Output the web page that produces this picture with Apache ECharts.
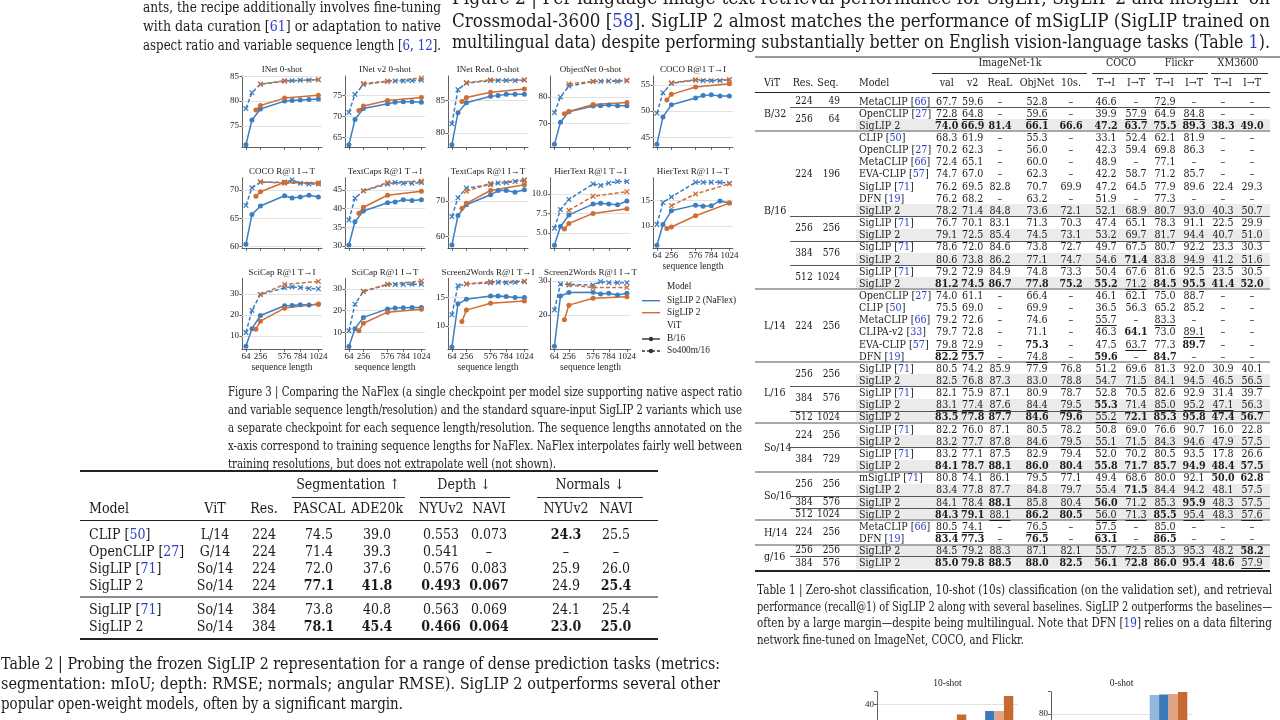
<!DOCTYPE html>
<html><head><meta charset="utf-8">
<script src="https://cdn.jsdelivr.net/npm/echarts@6.0.0/dist/echarts.min.js"></script>
<style>
html,body{margin:0;padding:0;background:#fff;}
body{width:1280px;height:720px;overflow:hidden;position:relative;}
#chart{position:absolute;left:0;top:0;width:1280px;height:860px;}
#overlay{position:absolute;left:0;top:0;width:1280px;height:720px;pointer-events:none;}
.ln{position:absolute;white-space:nowrap;font-family:'DejaVu Serif',serif;color:#1c1c1c;transform-origin:0 0;}
.c{color:#2a3fc6;}
.cell{position:absolute;white-space:nowrap;font-family:'DejaVu Serif Condensed','DejaVu Serif',serif;font-stretch:condensed;color:#1c1c1c;}
.b{font-weight:bold;}
.u{text-decoration:underline;text-underline-offset:1.5px;text-decoration-thickness:0.8px;}
.rule{position:absolute;}
.shade{position:absolute;background:#ebebeb;}
</style></head><body>
<div id="chart"></div><div id="overlay"></div>
<script>
// ---------------- Figure 3 data ----------------
const seqNaFlex = [64,144,256,576,676,784,900,1024];
const seqSigB16 = [196,256,576,1024];
const seqSigSo = [256,576,1024];
const seqTicks = [64,256,576,784,1024];
const panelTitles = ['INet 0-shot','INet v2 0-shot','INet ReaL 0-shot','ObjectNet 0-shot','COCO R@1 T→I',
  'COCO R@1 I→T','TextCaps R@1 T→I','TextCaps R@1 I→T','HierText R@1 T→I','HierText R@1 I→T',
  'SciCap R@1 T→I','SciCap R@1 I→T','Screen2Words R@1 T→I','Screen2Words R@1 I→T'];
const naflexB16 = [
  [71.2,76.2,78.4,80.0,80.1,80.2,80.3,80.4],
  [63.3,69.3,71.9,73.0,73.4,73.5,73.5,73.4],
  [78.2,83.1,84.6,85.6,85.7,85.9,85.9,85.9],
  [62.1,70.4,74.4,76.5,76.6,76.9,76.6,76.6],
  [43.7,48.9,51.2,52.5,53.0,53.1,52.9,52.9],
  [60.4,65.7,67.2,69.0,68.6,68.8,69.1,68.8],
  [30.3,36.5,39.4,41.6,41.8,42.4,42.2,42.4],
  [57.6,65.9,68.9,71.7,72.9,72.9,72.4,73.1],
  [3.4,5.8,7.3,8.7,8.8,8.7,8.6,9.1],
  [6.2,10.3,13.0,14.1,13.9,14.0,14.9,14.5],
  [5.1,13.5,19.8,24.4,24.5,24.9,24.8,25.2],
  [3.5,11.7,16.9,20.8,21.2,21.3,21.4,21.5],
  [6.3,13.9,14.7,15.3,15.3,15.2,15.0,15.0],
  [10.8,25.6,26.6,26.7,26.2,26.4,25.9,26.4]];
const naflexSo400m = [
  [78.5,81.7,83.4,84.0,84.1,84.2,84.2,84.3],
  [71.0,75.2,77.6,78.3,78.4,78.4,78.5,78.6],
  [81.4,86.6,87.6,88.0,88.0,88.0,88.0,88.1],
  [74.0,79.9,84.0,85.7,85.8,85.9,85.8,86.0],
  [49.6,53.5,55.3,55.9,55.8,55.8,55.8,56.0],
  [67.3,70.4,71.4,71.4,71.8,71.2,71.1,71.1],
  [37.0,42.8,44.8,46.6,47.0,46.8,46.8,47.0],
  [65.6,70.9,73.6,74.5,75.0,75.1,75.4,75.7],
  [5.6,8.0,9.3,11.3,11.1,11.4,11.6,11.6],
  [10.3,14.6,15.7,18.6,18.6,18.6,18.6,18.4],
  [11.7,22.2,29.8,33.0,33.4,33.1,32.7,32.5],
  [10.7,23.0,28.8,32.0,32.0,32.1,32.2,32.2],
  [12.0,17.1,17.4,17.6,17.7,17.6,17.7,17.8],
  [21.5,29.1,29.0,28.8,29.8,29.5,29.5,29.5]];
const siglipB16 = [
  [78.2,79.1,80.6,81.2],[71.4,72.5,73.8,74.5],[84.8,85.4,86.2,86.7],[73.6,74.5,77.1,77.8],
  [52.1,53.2,54.6,55.2],[68.9,69.7,71.4,71.2],[38.8,40.4,43.6,44.7],[67.9,69.3,72.9,74.5],
  [5.5,6.2,7.5,8.1],[9.5,9.8,12.0,14.5],[13.2,17.1,23.3,25.3],[10.7,14.2,19.3,20.6],
  [10.8,12.8,14.0,14.4],[18.6,22.9,24.9,25.4]];
const siglipSo400m = [
  [83.4,84.1,84.3],[77.8,78.4,79.1],[87.7,88.1,88.1],[84.8,85.8,86.2],
  [55.4,56.0,56.0],[71.5,71.2,71.3],[44.8,47.0,47.4],[72.7,74.9,75.9],
  [7.9,9.7,10.3],[14.0,16.3,18.3],[29.8,34.6,36.0],[28.9,32.2,33.6],
  [17.4,17.8,17.9],[28.8,28.1,28.1]];
const yTickValues = [[75,80,85],[65,70,75],[80,85],[70,80],[45,50,55],[60,65,70],[30,35,40,45],[60,70],
  [5,7.5,10],[10,15],[10,20,30],[10,20,30],[10,15],[20,30]];
const yExtents = [[70.7,85.05],[62.7,79.6],[77.8,88.7],[61,87.8],[43.1,56.7],[59.7,72.2],[29.4,48.3],[56.7,76.5],
  [3.0,12.1],[5.6,19.5],[3.7,37.5],[2.2,34.9],[5.9,18.4],[9.9,30.8]];

// ---------------- bottom-right bar figure data ----------------
const barCats = ['1','2','3'];
const tenShotLightBlue = [20.5,28.0,33.0];
const tenShotBlue = [22.0,30.0,37.3];
const tenShotLightOrange = [24.0,31.0,37.3];
const tenShotOrange = [27.0,36.0,43.3];
const zeroShotLightBlue = [60.0,70.0,88.5];
const zeroShotBlue = [62.0,72.0,88.8];
const zeroShotLightOrange = [63.0,73.0,89.0];
const zeroShotOrange = [65.0,75.0,89.9];

// ---------------- Table 1 data ----------------
const t1Models = ['MetaCLIP [{66}]','OpenCLIP [{27}]','SigLIP 2',
 'CLIP [{50}]','OpenCLIP [{27}]','MetaCLIP [{66}]','EVA-CLIP [{57}]','SigLIP [{71}]','DFN [{19}]','SigLIP 2',
 'SigLIP [{71}]','SigLIP 2','SigLIP [{71}]','SigLIP 2','SigLIP [{71}]','SigLIP 2',
 'OpenCLIP [{27}]','CLIP [{50}]','MetaCLIP [{66}]','CLIPA-v2 [{33}]','EVA-CLIP [{57}]','DFN [{19}]',
 'SigLIP [{71}]','SigLIP 2','SigLIP [{71}]','SigLIP 2','SigLIP 2',
 'SigLIP [{71}]','SigLIP 2','SigLIP [{71}]','SigLIP 2',
 'mSigLIP [{71}]','SigLIP 2','SigLIP 2','SigLIP 2',
 'MetaCLIP [{66}]','DFN [{19}]','SigLIP 2','SigLIP 2'];
const t1Values = [
'67.7 59.6 – 52.8 – 46.6_ – 72.9_ – – –',
'72.8_ 64.8_ – 59.6_ – 39.9 57.9_ 64.9 84.8_ – –',
'74.0* 66.9* 81.4* 66.1* 66.6* 47.2* 63.7* 75.5* 89.3* 38.3* 49.0*',
'68.3 61.9 – 55.3 – 33.1 52.4 62.1 81.9 – –',
'70.2 62.3 – 56.0 – 42.3 59.4 69.8 86.3 – –',
'72.4 65.1 – 60.0 – 48.9 – 77.1 – – –',
'74.7 67.0 – 62.3 – 42.2 58.7 71.2 85.7 – –',
'76.2 69.5 82.8 70.7 69.9 47.2 64.5 77.9 89.6 22.4 29.3',
'76.2 68.2 – 63.2 – 51.9 – 77.3 – – –',
'78.2 71.4 84.8 73.6 72.1 52.1 68.9 80.7 93.0 40.3 50.7',
'76.7 70.1 83.1 71.3 70.3 47.4 65.1 78.3 91.1 22.5 29.9',
'79.1 72.5 85.4 74.5 73.1 53.2 69.7 81.7 94.4 40.7 51.0',
'78.6 72.0 84.6 73.8 72.7 49.7 67.5 80.7 92.2 23.3 30.3',
'80.6_ 73.8_ 86.2_ 77.1_ 74.7_ 54.6_ 71.4* 83.8_ 94.9_ 41.2_ 51.6_',
'79.2 72.9 84.9 74.8 73.3 50.4 67.6 81.6 92.5 23.5 30.5',
'81.2* 74.5* 86.7* 77.8* 75.2* 55.2* 71.2_ 84.5* 95.5* 41.4* 52.0*',
'74.0 61.1 – 66.4 – 46.1 62.1 75.0 88.7 – –',
'75.5 69.0 – 69.9 – 36.5 56.3 65.2 85.2 – –',
'79.2 72.6 – 74.6 – 55.7_ – 83.3_ – – –',
'79.7 72.8 – 71.1 – 46.3 64.1* 73.0 89.1_ – –',
'79.8_ 72.9_ – 75.3* – 47.5 63.7_ 77.3 89.7* – –',
'82.2* 75.7* – 74.8_ – 59.6* – 84.7* – – –',
'80.5 74.2 85.9 77.9 76.8 51.2 69.6 81.3 92.0 30.9 40.1',
'82.5 76.8 87.3 83.0 78.8 54.7 71.5_ 84.1 94.5 46.5 56.5_',
'82.1 75.9 87.1 80.9 78.7 52.8 70.5 82.6 92.9 31.4 39.7',
'83.1_ 77.4_ 87.6_ 84.4_ 79.5_ 55.3* 71.4 85.0_ 95.2_ 47.1_ 56.3',
'83.5* 77.8* 87.7* 84.6* 79.6* 55.2_ 72.1* 85.3* 95.8* 47.4* 56.7*',
'82.2 76.0 87.1 80.5 78.2 50.8 69.0 76.6 90.7 16.0 22.8',
'83.2_ 77.7_ 87.8_ 84.6_ 79.5_ 55.1_ 71.5_ 84.3_ 94.6_ 47.9_ 57.5_',
'83.2 77.1 87.5 82.9 79.4 52.0 70.2 80.5 93.5 17.8 26.6',
'84.1* 78.7* 88.1* 86.0* 80.4* 55.8* 71.7* 85.7* 94.9* 48.4* 57.5*',
'80.8 74.1 86.1 79.5 77.1 49.4 68.6 80.0 92.1 50.0* 62.8*',
'83.4 77.8 87.7 84.8 79.7 55.4 71.5* 84.4 94.2 48.1 57.5',
'84.1_ 78.4_ 88.1* 85.8_ 80.4_ 56.0* 71.2 85.3_ 95.9* 48.3_ 57.5',
'84.3* 79.1* 88.1_ 86.2* 80.5* 56.0_ 71.3_ 85.5* 95.4_ 48.3 57.6_',
'80.5_ 74.1_ – 76.5_ – 57.5_ – 85.0_ – – –',
'83.4* 77.3* – 76.5* – 63.1* – 86.5* – – –',
'84.5_ 79.2_ 88.3_ 87.1_ 82.1_ 55.7_ 72.5_ 85.3_ 95.3_ 48.2_ 58.2*',
'85.0* 79.8* 88.5* 88.0* 82.5* 56.1* 72.8* 86.0* 95.4* 48.6* 57.9_'];
const t1VitGroups = [['B/32',0,3],['B/16',3,16],['L/14',16,22],['L/16',22,27],['So/14',27,31],['So/16',31,35],['H/14',35,37],['g/16',37,39]];
const t1ResGroups = [['224','49',0,1],['256','64',1,3],['224','196',3,10],['256','256',10,12],['384','576',12,14],['512','1024',14,16],
 ['224','256',16,22],['256','256',22,24],['384','576',24,26],['512','1024',26,27],['224','256',27,29],['384','729',29,31],
 ['256','256',31,33],['384','576',33,34],['512','1024',34,35],['224','256',35,37],['256','256',37,38],['384','576',38,39]];
const t1Header2 = ['val','v2','ReaL','ObjNet','10s.','T→I','I→T','T→I','I→T','T→I','I→T'];
const t1Header1 = [['ImageNet-1k',1010],['COCO',1121],['Flickr',1179],['XM3600',1238]];

// ---------------- Table 2 data ----------------
const t2Header2 = ['Model','ViT','Res.','PASCAL','ADE20k','NYUv2','NAVI','NYUv2','NAVI'];
const t2Header1 = [['Segmentation ↑',348],['Depth ↓',464],['Normals ↓',590]];
const t2Rows = [
 ['CLIP [{50}]','L/14','224','74.5','39.0','0.553','0.073','24.3*','25.5'],
 ['OpenCLIP [{27}]','G/14','224','71.4','39.3','0.541','–','–','–'],
 ['SigLIP [{71}]','So/14','224','72.0','37.6','0.576','0.083','25.9','26.0'],
 ['SigLIP 2','So/14','224','77.1*','41.8*','0.493*','0.067*','24.9','25.4*'],
 ['SigLIP [{71}]','So/14','384','73.8','40.8','0.563','0.069','24.1','25.4'],
 ['SigLIP 2','So/14','384','78.1*','45.4*','0.466*','0.064*','23.0*','25.0*']];

// ---------------- text lines ----------------
const textLines = [
 ['ants, the recipe additionally involves fine-tuning',143,8,298,15],
 ['with data curation [{61}] or adaptation to native',143,27,298,15],
 ['aspect ratio and variable sequence length [{6}, {12}].',143,46,298,15],
 ['Figure 2 | Per-language image-text retrieval performance for SigLIP, SigLIP 2 and mSigLIP on',452,-2,818,18],
 ['Crossmodal-3600 [{58}]. SigLIP 2 almost matches the performance of mSigLIP (SigLIP trained on',452,21,818,18],
 ['multilingual data) despite performing substantially better on English vision-language tasks (Table {1}).',452,42,818,18],
 ['Figure 3 | Comparing the NaFlex (a single checkpoint per model size supporting native aspect ratio',228,392,514,13],
 ['and variable sequence length/resolution) and the standard square-input SigLIP 2 variants which use',228,410,514,13],
 ['a separate checkpoint for each sequence length/resolution. The sequence lengths annotated on the',228,428,514,13],
 ['x-axis correspond to training sequence lengths for NaFlex. NaFlex interpolates fairly well between',228,446,514,13],
 ['training resolutions, but does not extrapolate well (not shown).',228,464,328,13],
 ['Table 1 | Zero-shot classification, 10-shot (10s) classification (on the validation set), and retrieval',757,590,515,12.5],
 ['performance (recall@1) of SigLIP 2 along with several baselines. SigLIP 2 outperforms the baselines—',757,607,515,12.5],
 ['often by a large margin—despite being multilingual. Note that DFN [{19}] relies on a data filtering',757,623,515,12.5],
 ['network fine-tuned on ImageNet, COCO, and Flickr.',757,640,267,12.5],
 ['Table 2 | Probing the frozen SigLIP 2 representation for a range of dense prediction tasks (metrics:',1,664,719,16],
 ['segmentation: mIoU; depth: RMSE; normals; angular RMSE). SigLIP 2 outperforms several other',1,684,719,16],
 ['popular open-weight models, often by a significant margin.',1,704,402,16]];

// ================= ECharts =================
const BLUE='#3b7ec1', ORANGE='#cf6d33', AX='#3a3a3a', GRIDC='#e2e2e2';
const SERIF='Liberation Serif';
const PANEL_LEFT=[242,345,448,550.5,653], PW=80;
const ROW_TOP=[76,177.7,278.3], ROW_H=[71.3,70.6,71];
const XMARK='path://M0,1.6L1.6,0L5,3.4L8.4,0L10,1.6L6.6,5L10,8.4L8.4,10L5,6.6L1.6,10L0,8.4L3.4,5Z';
const grids=[],xAxes=[],yAxes=[],series=[],graphics=[];
const isTick=(v,arr)=>arr.some(t=>Math.abs(t-v)<1e-6);
panelTitles.forEach((title,i)=>{
  const r=Math.floor(i/5), c=i%5;
  const left=PANEL_LEFT[c], top=ROW_TOP[r], h=ROW_H[r];
  grids.push({left:left, top:top, width:PW, height:h});
  const showX=(r===2)||(i===9);
  xAxes.push({type:'value',gridIndex:i,min:12,max:1072,
    axisLine:{show:true,lineStyle:{color:AX,width:0.8}},
    axisTick:{show:true,length:2.5,customValues:seqTicks,lineStyle:{color:AX,width:0.8}},
    axisLabel:{show:showX,customValues:seqTicks,margin:3,fontFamily:SERIF,fontSize:9,color:'#222',
      formatter:(v)=>String(Math.round(v))},
    splitLine:{show:false},
    name:showX?'sequence length':'',nameLocation:'middle',nameGap:11,
    nameTextStyle:{fontFamily:SERIF,fontSize:9.5,color:'#222'}});
  const ticks=yTickValues[i];
  yAxes.push({type:'value',gridIndex:i,min:yExtents[i][0],max:yExtents[i][1],
    axisLine:{show:true,lineStyle:{color:AX,width:0.8}},
    axisTick:{show:true,length:2.5,customValues:ticks,lineStyle:{color:AX,width:0.8}},
    axisLabel:{customValues:ticks,margin:3,fontFamily:SERIF,fontSize:9,color:'#222',
      formatter:(v)=>isTick(v,ticks)?(i===8?v.toFixed(1):String(v)):''},
    splitLine:{show:false}});
  graphics.push({type:'text',x:left+PW/2,y:top-6,silent:true,
    style:{text:title,font:'9px "'+SERIF+'"',fill:'#222',textAlign:'center',textVerticalAlign:'middle',verticalAlign:'middle'}});
  series.push({type:'line',xAxisIndex:i,yAxisIndex:i,z:3,
    data:seqNaFlex.map((x,k)=>[x,naflexB16[i][k]]),
    lineStyle:{color:BLUE,width:1.5},itemStyle:{color:BLUE},symbol:'circle',symbolSize:5,
    markLine:{silent:true,symbol:['none','none'],label:{show:false},z:1,animation:false,
      lineStyle:{color:GRIDC,width:1,type:'solid'},data:ticks.map(v=>({yAxis:v}))}});
  series.push({type:'line',xAxisIndex:i,yAxisIndex:i,z:3,
    data:seqNaFlex.map((x,k)=>[x,naflexSo400m[i][k]]),
    lineStyle:{color:BLUE,width:1.5,type:[4,2.2]},itemStyle:{color:BLUE},symbol:XMARK,symbolSize:5.5});
  series.push({type:'line',xAxisIndex:i,yAxisIndex:i,z:3,
    data:seqSigB16.map((x,k)=>[x,siglipB16[i][k]]),
    lineStyle:{color:ORANGE,width:1.5},itemStyle:{color:ORANGE},symbol:'circle',symbolSize:5});
  series.push({type:'line',xAxisIndex:i,yAxisIndex:i,z:3,
    data:seqSigSo.map((x,k)=>[x,siglipSo400m[i][k]]),
    lineStyle:{color:ORANGE,width:1.5,type:[4,2.2]},itemStyle:{color:ORANGE},symbol:XMARK,symbolSize:5.5});
});
// legend (drawn as graphic)
const LG={lx0:642,lx1:660,tx:667,f:'9.3px "'+SERIF+'"'};
const lgText=(t,y)=>({type:'text',x:LG.tx,y:y,silent:true,style:{text:t,font:LG.f,fill:'#222',textAlign:'left',textVerticalAlign:'middle',verticalAlign:'middle'}});
const lgLine=(y,col,dash)=>({type:'line',silent:true,shape:{x1:LG.lx0,y1:y,x2:LG.lx1,y2:y},style:{stroke:col,lineWidth:1.4,lineDash:dash||null}});
graphics.push(lgText('Model',287));
graphics.push(lgLine(300.7,BLUE)); graphics.push(lgText('SigLIP 2 (NaFlex)',300.7));
graphics.push(lgLine(312.7,ORANGE)); graphics.push(lgText('SigLIP 2',312.7));
graphics.push(lgText('ViT',326));
graphics.push(lgLine(339,'#333')); graphics.push({type:'circle',silent:true,shape:{cx:651,cy:339,r:2.2},style:{fill:'#333'}}); graphics.push(lgText('B/16',339));
graphics.push(lgLine(351,'#333',[3,2])); graphics.push({type:'circle',silent:true,shape:{cx:651,cy:351,r:2.2},style:{fill:'#333'}}); graphics.push(lgText('So400m/16',351));

// bar figure (mostly below the page edge)
const barColors=['#93b8dc','#3a7bbb','#e2a383','#c66a31'];
const barGrids=[{left:877,top:691.7,width:141,height:113.4,min:0,max:45,iv:10,title:'10-shot',
   sets:[tenShotLightBlue,tenShotBlue,tenShotLightOrange,tenShotOrange]},
  {left:1051,top:691.7,width:141,height:111.5,min:40,max:90,iv:20,title:'0-shot',
   sets:[zeroShotLightBlue,zeroShotBlue,zeroShotLightOrange,zeroShotOrange]}];
barGrids.forEach((g,j)=>{
  const gi=14+j;
  grids.push({left:g.left,top:g.top,width:g.width,height:g.height});
  xAxes.push({type:'category',gridIndex:gi,data:barCats,axisLine:{lineStyle:{color:AX,width:0.8}},axisTick:{show:false},axisLabel:{show:false}});
  yAxes.push({type:'value',gridIndex:gi,min:g.min,max:g.max,interval:g.iv,
    axisLine:{show:true,lineStyle:{color:AX,width:0.8}},
    axisTick:{show:true,length:3,lineStyle:{color:AX,width:0.8}},
    axisLabel:{margin:3,fontFamily:SERIF,fontSize:9,color:'#222',formatter:v=>(Math.abs(v/g.iv-Math.round(v/g.iv))<1e-6?String(v):'')},
    splitLine:{show:true,showMaxLine:false,lineStyle:{color:GRIDC,width:1}}});
  g.sets.forEach((arr,k)=>series.push({type:'bar',xAxisIndex:gi,yAxisIndex:gi,data:arr,itemStyle:{color:barColors[k]},barGap:'0%',barCategoryGap:'20%'}));
  graphics.push({type:'text',x:g.left+g.width/2,y:683,silent:true,style:{text:g.title,font:'9.5px "'+SERIF+'"',fill:'#222',textAlign:'center',textVerticalAlign:'middle',verticalAlign:'middle'}});
});

const chart=echarts.init(document.getElementById('chart'),null,{renderer:'canvas'});
chart.setOption({animation:false,backgroundColor:'#fff',grid:grids,xAxis:xAxes,yAxis:yAxes,series:series,graphic:{elements:graphics}});

// ================= HTML text & tables =================
const ov=document.getElementById('overlay');
function markup(s){
  return s.replace(/\{([^}]*)\}/g,'<span class="c">$1</span>');
}
function addLine(t,x,cy,w,fs){
  const d=document.createElement('div');
  d.className='ln'; d.style.fontSize=fs+'px'; d.style.lineHeight=fs+'px';
  d.style.left=x+'px'; d.style.top=(cy-fs*0.52)+'px';
  d.innerHTML=markup(t); ov.appendChild(d);
  const nat=d.getBoundingClientRect().width;
  if(w&&nat>0) d.style.transform='scaleX('+(w/nat)+')';
}
textLines.forEach(l=>addLine(l[0],l[1],l[2],l[3],l[4]));

function cell(t,x,cy,fs,align){
  let cls='cell';
  if(t.endsWith('*')){cls+=' b';t=t.slice(0,-1);}
  else if(t.endsWith('_')){t=t.slice(0,-1);t='<span class="u">'+markup(t)+'</span>';}
  const d=document.createElement('div');
  d.className=cls; d.style.fontSize=fs+'px'; d.style.lineHeight=fs+'px';
  d.style.top=(cy-fs*0.52)+'px';
  d.innerHTML=t.indexOf('<span')===0?t:markup(t);
  d.style.left=x+'px';
  if(align==='center') d.style.transform='translateX(-50%)';
  else if(align==='right') d.style.transform='translateX(-100%)';
  ov.appendChild(d); return d;
}
function rule(x0,x1,y,th,col){
  const d=document.createElement('div'); d.className='rule';
  d.style.left=x0+'px'; d.style.width=(x1-x0)+'px'; d.style.top=(y-th/2)+'px'; d.style.height=th+'px';
  d.style.background=col||'#222'; ov.appendChild(d);
}
function shade(x0,x1,y0,y1){
  const d=document.createElement('div'); d.className='shade';
  d.style.left=x0+'px'; d.style.width=(x1-x0)+'px'; d.style.top=y0+'px'; d.style.height=(y1-y0)+'px'; ov.appendChild(d);
}
// ---- Table 1 ----
const T1={x0:755,x1:1270,rowTop:95,rowH:12.15,fs:10.6,rsFs:10.1,vitX:764,resX:804,seqHX:827,seqR:840,modelX:859,
  cols:[946.7,972.7,1000,1037,1071,1106,1136,1165,1194,1223,1252]};
const rowCY=i=>T1.rowTop+T1.rowH*(i+0.5);
t1Models.forEach((m,i)=>{ if(m==='SigLIP 2') shade(856,T1.x1,T1.rowTop+T1.rowH*i,T1.rowTop+T1.rowH*(i+1)); });
rule(T1.x0,1280,57,2,'#9a9a9a');
t1Header1.forEach(h=>cell(h[0],h[1],63,T1.fs,'center'));
[[932,1087],[1092,1150],[1153,1208],[1211,1268]].forEach(s=>rule(s[0],s[1],73,0.7,'#333'));
cell('ViT',T1.vitX,83,T1.fs,'left'); cell('Res.',803,83,T1.fs,'center'); cell('Seq.',T1.seqHX+1,83,T1.fs,'center'); cell('Model',T1.modelX,83,T1.fs,'left');
t1Header2.forEach((h,k)=>cell(h,T1.cols[k],83,T1.fs,'center'));
rule(T1.x0,T1.x1,92.5,0.8,'#222');
t1VitGroups.forEach((g,gi)=>{
  const cy=(rowCY(g[1])+rowCY(g[2]-1))/2;
  cell(g[0],T1.vitX,cy,T1.fs,'left');
  if(gi>0) rule(T1.x0,T1.x1,T1.rowTop+T1.rowH*g[1],2,'#a8a8a8');
});
const vitStarts=t1VitGroups.map(g=>g[1]);
t1ResGroups.forEach(g=>{
  const cy=(rowCY(g[2])+rowCY(g[3]-1))/2;
  cell(g[0],T1.resX,cy,T1.rsFs,'center'); cell(g[1],T1.seqR,cy,T1.rsFs,'right');
  if(vitStarts.indexOf(g[2])<0) rule(790,T1.x1,T1.rowTop+T1.rowH*g[2],0.6,'#555');
});
t1Models.forEach((m,i)=>{
  cell(m,T1.modelX,rowCY(i),T1.fs,'left');
  t1Values[i].split(' ').forEach((v,k)=>cell(v,T1.cols[k],rowCY(i),T1.fs,'center'));
});
rule(T1.x0,T1.x1,571,1.3,'#222');
// ---- Table 2 ----
const T2={x0:80,x1:658,fs:14,modelX:89,cols:[215,264,319,377,441,489,566,616],rows:[534,551,568,585,609,626]};
rule(T2.x0,T2.x1,471,1.3,'#222');
t2Header1.forEach(h=>cell(h[0],h[1],484,T2.fs,'center'));
[[292,405],[420,510],[537,643]].forEach(s=>rule(s[0],s[1],497,0.7,'#333'));
cell(t2Header2[0],T2.modelX,508,T2.fs,'left');
t2Header2.slice(1).forEach((h,k)=>cell(h,T2.cols[k],508,T2.fs,'center'));
rule(T2.x0,T2.x1,520,0.8,'#222');
t2Rows.forEach((r,i)=>{
  cell(r[0],T2.modelX,T2.rows[i],T2.fs,'left');
  r.slice(1).forEach((v,k)=>cell(v,T2.cols[k],T2.rows[i],T2.fs,'center'));
});
rule(T2.x0,T2.x1,597,1.6,'#8a8a8a');
rule(T2.x0,T2.x1,639,1.3,'#222');
</script></body></html>
